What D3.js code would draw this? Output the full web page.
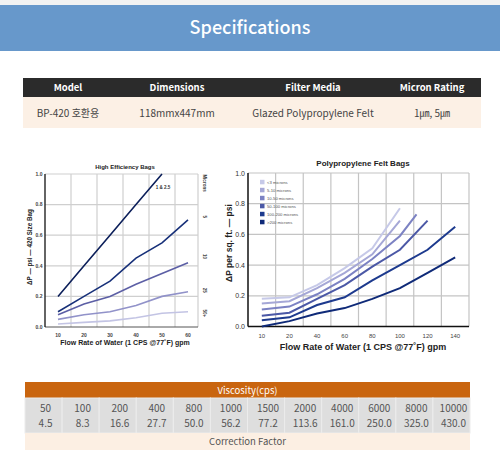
<!DOCTYPE html>
<html>
<head>
<meta charset="utf-8">
<script src="https://cdn.jsdelivr.net/npm/d3@7"></script>
<style>
  body { margin: 0; background: #fff; }
  svg { display: block; }
</style>
</head>
<body>
<div id="chart"></div>
<script>
// spec table
const specHeaders = ["Model", "Dimensions", "Filter Media", "Micron Rating"];
const specValues = ["BP-420 호환용", "118mmx447mm", "Glazed Polypropylene Felt", "1㎛, 5㎛"];

// high efficiency bags (left chart)
const heFlow = [10, 20, 30, 40, 50, 60];
const heSeries = [
  { name: "50+", values: [0.02, 0.03, 0.04, 0.06, 0.09, 0.10], color: "#c3c4e4" },
  { name: "25", values: [0.05, 0.08, 0.10, 0.14, 0.20, 0.23], color: "#9192c9" },
  { name: "10", values: [0.08, 0.15, 0.20, 0.28, 0.35, 0.42], color: "#5c5fa5" },
  { name: "5", values: [0.10, 0.20, 0.30, 0.45, 0.55, 0.70], color: "#173079" },
  { name: "1 & 2.5", values: [0.20, 0.40, 0.60, 0.80, 1.00, null], color: "#0c1f5a" }
];
const heYTicks = [0, 0.2, 0.4, 0.6, 0.8, 1.0];

// polypropylene felt bags (right chart)
const ppTicks = [10, 20, 40, 60, 80, 100, 120, 140];
const ppSeries = [
  { name: "<3 microns", x: [10, 20, 40, 60, 80, 100], y: [0.18, 0.19, 0.27, 0.38, 0.51, 0.77], color: "#c6c9e8" },
  { name: "5-10 microns", x: [10, 20, 40, 60, 80, 100], y: [0.15, 0.165, 0.25, 0.35, 0.47, 0.69], color: "#a5a7d6" },
  { name: "10-50 microns", x: [10, 20, 40, 60, 80, 100, 112], y: [0.11, 0.13, 0.21, 0.31, 0.44, 0.59, 0.73], color: "#7c82c3" },
  { name: "50-100 microns", x: [10, 20, 40, 60, 80, 100, 120], y: [0.07, 0.09, 0.18, 0.27, 0.39, 0.50, 0.69], color: "#4b58a6" },
  { name: "100-200 microns", x: [10, 20, 40, 60, 80, 100, 120, 140], y: [0.04, 0.06, 0.14, 0.19, 0.30, 0.40, 0.50, 0.65], color: "#1d3a8e" },
  { name: ">200 microns", x: [10, 20, 40, 60, 80, 100, 120, 140], y: [0.0, 0.035, 0.085, 0.12, 0.18, 0.25, 0.35, 0.45], color: "#0f2a78" }
];

// viscosity table
const viscosity = ["50", "100", "200", "400", "800", "1000", "1500", "2000", "4000", "6000", "8000", "10000"];
const correction = ["4.5", "8.3", "16.6", "27.7", "50.0", "56.2", "77.2", "113.6", "161.0", "250.0", "325.0", "430.0"];

const kr = "'Noto Sans CJK KR', 'Noto Sans', sans-serif";
const sans = "'Liberation Sans', Arial, sans-serif";

const svg = d3.select("#chart").append("svg")
  .attr("width", 500)
  .attr("height", 462);

// banner
svg.append("rect").attr("x", 0).attr("y", 0).attr("width", 500).attr("height", 5).attr("fill", "#f2f2f2");
svg.append("rect").attr("x", 0).attr("y", 5).attr("width", 500).attr("height", 46).attr("fill", "#6798cb");
svg.append("text")
  .attr("x", 250).attr("y", 34)
  .attr("text-anchor", "middle")
  .attr("fill", "#fff")
  .style("font-family", kr)
  .style("font-size", "18px")
  .style("font-weight", "500")
  .text("Specifications");

// spec table
const specX = [68, 177, 313, 432];
svg.append("rect").attr("x", 23).attr("y", 78).attr("width", 458).attr("height", 19).attr("fill", "#2b2b2b");
svg.append("rect").attr("x", 23).attr("y", 97).attr("width", 458).attr("height", 31).attr("fill", "#fcf0e5");
svg.selectAll(".spec-h")
  .data(specHeaders)
  .enter()
  .append("text")
  .attr("x", (d, i) => specX[i])
  .attr("y", 91)
  .attr("text-anchor", "middle")
  .attr("fill", "#fff")
  .style("font-family", kr)
  .style("font-size", "9.5px")
  .style("font-weight", "bold")
  .text(d => d);
svg.selectAll(".spec-v")
  .data(specValues)
  .enter()
  .append("text")
  .attr("x", (d, i) => specX[i])
  .attr("y", 117)
  .attr("text-anchor", "middle")
  .attr("fill", "#444")
  .style("font-family", kr)
  .style("font-size", "10px")
  .text(d => d);

// ---- left chart: High Efficiency Bags
const L = { left: 45, right: 198, top: 174, bottom: 327 };
const hx = d3.scaleLinear().domain([10, 60]).range([58, 188]);
const hy = d3.scaleLinear().domain([0, 1]).range([L.bottom, L.top]);

const lg = svg.append("g");
lg.selectAll(".vg")
  .data([15, 25, 35, 45, 55])
  .enter()
  .append("line")
  .attr("x1", d => hx(d)).attr("x2", d => hx(d))
  .attr("y1", L.top).attr("y2", L.bottom)
  .attr("stroke", "#cfcfcf").attr("stroke-width", 1.2);
lg.selectAll(".hg")
  .data(heYTicks.slice(1))
  .enter()
  .append("line")
  .attr("x1", L.left).attr("x2", L.right)
  .attr("y1", d => hy(d)).attr("y2", d => hy(d))
  .attr("stroke", "#cfcfcf").attr("stroke-width", 1.2);
lg.append("line").attr("x1", L.right).attr("x2", L.right).attr("y1", L.top).attr("y2", L.bottom)
  .attr("stroke", "#cfcfcf").attr("stroke-width", 1.2);
lg.append("line").attr("x1", L.left).attr("x2", L.right).attr("y1", L.bottom).attr("y2", L.bottom)
  .attr("stroke", "#555").attr("stroke-width", 1);
lg.append("line").attr("x1", L.left).attr("x2", L.left).attr("y1", L.top).attr("y2", L.bottom)
  .attr("stroke", "#111").attr("stroke-width", 1.3);

lg.selectAll(".yt")
  .data(heYTicks)
  .enter()
  .append("text")
  .attr("x", 39).attr("y", d => hy(d) + 1.8)
  .attr("text-anchor", "middle")
  .attr("fill", "#444")
  .style("font-family", sans).style("font-size", "5px").style("font-weight", "bold")
  .text(d => d.toFixed(1));
lg.selectAll(".xt")
  .data(heFlow)
  .enter()
  .append("text")
  .attr("x", d => hx(d)).attr("y", 337)
  .attr("text-anchor", "middle")
  .attr("fill", "#444")
  .style("font-family", sans).style("font-size", "5px").style("font-weight", "bold")
  .text(d => d);

const hLine = d3.line()
  .defined(d => d[1] != null)
  .x(d => hx(d[0]))
  .y(d => hy(d[1]));
lg.selectAll(".hl")
  .data(heSeries)
  .enter()
  .append("path")
  .attr("d", s => hLine(heFlow.map((f, i) => [f, s.values[i]])))
  .attr("fill", "none")
  .attr("stroke", s => s.color)
  .attr("stroke-width", 1.6);

lg.append("text")
  .attr("x", 163).attr("y", 189)
  .attr("text-anchor", "middle")
  .attr("fill", "#333")
  .style("font-family", sans).style("font-size", "4.5px").style("font-weight", "bold")
  .text("1 & 2.5");

// micron labels on the right side (rotated)
const sideLabels = heSeries.filter(s => s.name !== "1 & 2.5");
const sideY = { "5": 0.72, "10": 0.46, "25": 0.24, "50+": 0.09 };
lg.selectAll(".sl")
  .data(sideLabels)
  .enter()
  .append("text")
  .attr("transform", s => `translate(203, ${hy(sideY[s.name])}) rotate(90)`)
  .attr("text-anchor", "middle")
  .attr("fill", "#444")
  .style("font-family", sans).style("font-size", "4.5px").style("font-weight", "bold")
  .text(s => s.name);
lg.append("text")
  .attr("transform", "translate(203, 183) rotate(90)")
  .attr("text-anchor", "middle")
  .attr("fill", "#444")
  .style("font-family", sans).style("font-size", "4.5px").style("font-weight", "bold")
  .text("Microns");

lg.append("text")
  .attr("x", 125).attr("y", 169)
  .attr("text-anchor", "middle")
  .attr("fill", "#222")
  .style("font-family", sans).style("font-size", "6px").style("font-weight", "bold")
  .text("High Efficiency Bags");
lg.append("text")
  .attr("transform", "translate(32, 247) rotate(-90)")
  .attr("text-anchor", "middle")
  .attr("fill", "#222")
  .style("font-family", sans).style("font-size", "6.3px").style("font-weight", "bold")
  .text("ΔP — psi — 420 Size Bag");
lg.append("text")
  .attr("x", 125).attr("y", 345)
  .attr("text-anchor", "middle")
  .attr("fill", "#222")
  .style("font-family", sans).style("font-size", "7px").style("font-weight", "bold")
  .text("Flow Rate of Water (1 CPS @77˚F) gpm");

// ---- right chart: Polypropylene Felt Bags
const R = { left: 248, right: 469, top: 173, bottom: 326.5 };
const step = (R.right - R.left) / ppTicks.length;
const px = d3.scaleLinear()
  .domain(ppTicks)
  .range(ppTicks.map((t, i) => R.left + step * (i + 0.5)));
const py = d3.scaleLinear().domain([0, 1]).range([R.bottom, R.top]);

const rg = svg.append("g");
rg.selectAll(".vg")
  .data(ppTicks)
  .enter()
  .append("line")
  .attr("x1", (d, i) => R.left + step * (i + 1)).attr("x2", (d, i) => R.left + step * (i + 1))
  .attr("y1", R.top).attr("y2", R.bottom)
  .attr("stroke", "#c4c4c4").attr("stroke-width", 1.2);
rg.selectAll(".hg")
  .data([0.2, 0.4, 0.6, 0.8, 1.0])
  .enter()
  .append("line")
  .attr("x1", R.left).attr("x2", R.right)
  .attr("y1", d => py(d)).attr("y2", d => py(d))
  .attr("stroke", "#c4c4c4").attr("stroke-width", 1.2);
rg.append("line").attr("x1", R.left).attr("x2", R.right).attr("y1", R.bottom).attr("y2", R.bottom)
  .attr("stroke", "#111").attr("stroke-width", 1.5);
rg.append("line").attr("x1", R.left).attr("x2", R.left).attr("y1", R.top).attr("y2", R.bottom)
  .attr("stroke", "#111").attr("stroke-width", 1.5);

rg.selectAll(".yt")
  .data([0, 0.2, 0.4, 0.6, 0.8, 1.0])
  .enter()
  .append("text")
  .attr("x", 245).attr("y", d => py(d) + 2.5)
  .attr("text-anchor", "end")
  .attr("fill", "#333")
  .style("font-family", sans).style("font-size", "7px")
  .text(d => d.toFixed(1));
rg.selectAll(".xt")
  .data(ppTicks)
  .enter()
  .append("text")
  .attr("x", d => px(d)).attr("y", 338)
  .attr("text-anchor", "middle")
  .attr("fill", "#444")
  .style("font-family", sans).style("font-size", "6px")
  .text(d => d);

const pLine = d3.line().x(d => px(d[0])).y(d => py(d[1]));
rg.selectAll(".pl")
  .data(ppSeries)
  .enter()
  .append("path")
  .attr("d", s => pLine(s.x.map((v, i) => [v, s.y[i]])))
  .attr("fill", "none")
  .attr("stroke", s => s.color)
  .attr("stroke-width", 2);

const leg = rg.append("g").attr("transform", "translate(260, 182)");
leg.selectAll("rect")
  .data(ppSeries)
  .enter()
  .append("rect")
  .attr("x", 0).attr("y", (d, i) => i * 8 - 2.2)
  .attr("width", 4.5).attr("height", 4.5)
  .attr("fill", d => d.color);
leg.selectAll("text")
  .data(ppSeries)
  .enter()
  .append("text")
  .attr("x", 7).attr("y", (d, i) => i * 8 + 1.5)
  .attr("fill", "#555")
  .style("font-family", sans).style("font-size", "4.2px")
  .text(d => d.name);

rg.append("text")
  .attr("x", 363).attr("y", 166)
  .attr("text-anchor", "middle")
  .attr("fill", "#222")
  .style("font-family", sans).style("font-size", "8px").style("font-weight", "bold")
  .text("Polypropylene Felt Bags");
rg.append("text")
  .attr("transform", "translate(232, 243) rotate(-90)")
  .attr("text-anchor", "middle")
  .attr("fill", "#222")
  .style("font-family", sans).style("font-size", "8.5px").style("font-weight", "bold")
  .text("ΔP per sq. ft. — psi");
rg.append("text")
  .attr("x", 363).attr("y", 350)
  .attr("text-anchor", "middle")
  .attr("fill", "#222")
  .style("font-family", sans).style("font-size", "9px").style("font-weight", "bold")
  .text("Flow Rate of Water (1 CPS @77˚F) gpm");

// ---- viscosity table
const vx = d3.scaleBand().domain(d3.range(viscosity.length)).range([25, 470]);
const tg = svg.append("g");
tg.append("rect").attr("x", 25).attr("y", 382).attr("width", 445).attr("height", 16).attr("fill", "#c9650f");
tg.append("text")
  .attr("x", 247.5).attr("y", 394)
  .attr("text-anchor", "middle")
  .attr("fill", "#fff")
  .style("font-family", kr).style("font-size", "9.5px")
  .text("Viscosity(cps)");
tg.selectAll(".cell")
  .data(viscosity)
  .enter()
  .append("rect")
  .attr("x", (d, i) => vx(i)).attr("y", 398)
  .attr("width", vx.bandwidth()).attr("height", 35)
  .attr("fill", "#dedede")
  .attr("stroke", "#ececec").attr("stroke-width", 1);
tg.selectAll(".vv")
  .data(viscosity)
  .enter()
  .append("text")
  .attr("x", (d, i) => vx(i) + vx.bandwidth() / 2 + 2).attr("y", 412)
  .attr("text-anchor", "middle")
  .attr("fill", "#555")
  .style("font-family", kr).style("font-size", "10px")
  .text(d => d);
tg.selectAll(".cf")
  .data(correction)
  .enter()
  .append("text")
  .attr("x", (d, i) => vx(i) + vx.bandwidth() / 2 + 2).attr("y", 427)
  .attr("text-anchor", "middle")
  .attr("fill", "#555")
  .style("font-family", kr).style("font-size", "10px")
  .text(d => d);
tg.append("rect").attr("x", 25).attr("y", 433).attr("width", 445).attr("height", 17).attr("fill", "#fcefe3");
tg.append("text")
  .attr("x", 247.5).attr("y", 445)
  .attr("text-anchor", "middle")
  .attr("fill", "#555")
  .style("font-family", kr).style("font-size", "9.5px")
  .text("Correction Factor");
</script>
</body>
</html>
